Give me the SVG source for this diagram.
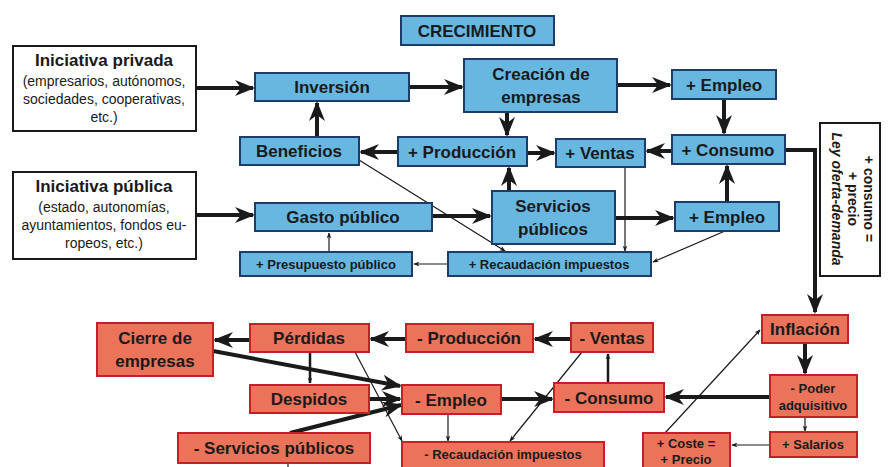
<svg xmlns="http://www.w3.org/2000/svg" width="889" height="467" viewBox="0 0 889 467">
<defs>
<style>
.b rect{fill:#67b7e1;stroke:#1d3c6c;stroke-width:2}
.r rect{fill:#ea735a;stroke:#c4202a;stroke-width:2}
.w rect{fill:#fff;stroke:#1a1a1a;stroke-width:2}
text{font-family:"Liberation Sans",Arial,sans-serif;font-weight:bold;fill:#1a1a1a;text-anchor:middle}
.b text{font-size:17px}
.r text{font-size:17px}
.s{font-size:13px!important}
.n{font-weight:normal;font-size:14px}
#conn line,#conn polyline{stroke:#1a1a1a;fill:none}
.tk{stroke-width:4}
.md{stroke-width:2.5}
.tn{stroke-width:1.2}
</style>
<marker id="a" viewBox="0 0 10 10" refX="9" refY="5" markerWidth="6" markerHeight="6" markerUnits="userSpaceOnUse" orient="auto"><path d="M0,1 L10,5 L0,9 L3,5z" fill="#1a1a1a"/></marker>
<marker id="A" viewBox="0 0 10 10" refX="9" refY="5" markerWidth="5" markerHeight="5" orient="auto"><path d="M0,1 L10,5 L0,9 L3,5z" fill="#1a1a1a"/></marker>
</defs>
<rect width="889" height="467" fill="#fff"/>
<g id="conn">
<line class="tk" x1="196" y1="88" x2="253" y2="88" marker-end="url(#A)"/>
<line class="tk" x1="409" y1="87" x2="462" y2="87" marker-end="url(#A)"/>
<line class="tk" x1="617" y1="85" x2="670" y2="85" marker-end="url(#A)"/>
<line class="tk" x1="724" y1="99" x2="724" y2="133" marker-end="url(#A)"/>
<line class="tk" x1="507" y1="112" x2="507" y2="135" marker-end="url(#A)"/>
<line class="tk" x1="317" y1="137" x2="317" y2="103" marker-end="url(#A)"/>
<line class="tk" x1="398" y1="152" x2="361" y2="152" marker-end="url(#A)"/>
<line class="tk" x1="527" y1="153" x2="554" y2="153" marker-end="url(#A)"/>
<line class="tk" x1="672" y1="151" x2="647" y2="151" marker-end="url(#A)"/>
<line class="tk" x1="509" y1="191" x2="509" y2="168" marker-end="url(#A)"/>
<line class="tk" x1="727" y1="202" x2="727" y2="166" marker-end="url(#A)"/>
<line class="tk" x1="196" y1="215" x2="253" y2="215" marker-end="url(#A)"/>
<line class="tk" x1="432" y1="216" x2="490" y2="216" marker-end="url(#A)"/>
<line class="tk" x1="615" y1="218" x2="673" y2="218" marker-end="url(#A)"/>
<line class="tn" x1="359" y1="160" x2="505" y2="251" marker-end="url(#a)"/>
<line class="tn" x1="625" y1="167" x2="625" y2="251" marker-end="url(#a)"/>
<line class="tn" x1="725" y1="231" x2="653" y2="262" marker-end="url(#a)"/>
<line class="tn" x1="448" y1="264" x2="414" y2="264" marker-end="url(#a)"/>
<line class="tn" x1="329" y1="252" x2="329" y2="233" marker-end="url(#a)"/>
<polyline class="tk" points="785,150 815,150 815,312" marker-end="url(#A)"/>
<line class="tk" x1="571" y1="339" x2="535" y2="339" marker-end="url(#A)"/>
<line class="tk" x1="406" y1="339" x2="371" y2="339" marker-end="url(#A)"/>
<line class="tk" x1="250" y1="340" x2="215" y2="340" marker-end="url(#A)"/>
<line class="tk" x1="213" y1="351" x2="400" y2="386" marker-end="url(#A)"/>
<line class="md" x1="310" y1="352" x2="310" y2="383" marker-end="url(#a)"/>
<line class="tn" x1="355" y1="352" x2="402" y2="441" marker-end="url(#a)"/>
<line class="tk" x1="369" y1="399" x2="400" y2="399" marker-end="url(#A)"/>
<line class="tk" x1="501" y1="399" x2="552" y2="399" marker-end="url(#A)"/>
<line class="md" x1="608" y1="383" x2="608" y2="354" marker-end="url(#a)"/>
<line class="tk" x1="290" y1="433" x2="401" y2="405" marker-end="url(#A)"/>
<line class="tn" x1="288" y1="463" x2="288" y2="467"/>
<line class="tn" x1="448" y1="414" x2="448" y2="441" marker-end="url(#a)"/>
<line class="tn" x1="582" y1="352" x2="510" y2="441" marker-end="url(#a)"/>
<line class="tk" x1="770" y1="397" x2="666" y2="397" marker-end="url(#A)"/>
<line class="tk" x1="805" y1="343" x2="805" y2="373" marker-end="url(#A)"/>
<line class="tn" x1="805" y1="417" x2="805" y2="431" marker-end="url(#a)"/>
<line class="tn" x1="770" y1="445" x2="732" y2="445" marker-end="url(#a)"/>
<line class="tn" x1="665" y1="433" x2="760" y2="330" marker-end="url(#a)"/>
</g>
<g id="crecimiento" class="b"><rect x="401" y="16" width="153" height="29"/><text x="477" y="37">CRECIMIENTO</text></g>
<g id="privada" class="w"><rect x="13" y="46" width="183" height="85"/><text x="104" y="66" style="font-size:17px">Iniciativa privada</text><text class="n" x="104" y="86">(empresarios, autónomos,</text><text class="n" x="104" y="104">sociedades, cooperativas,</text><text class="n" x="104" y="122">etc.)</text></g>
<g id="publica" class="w"><rect x="13" y="172" width="183" height="87"/><text x="104" y="192" style="font-size:17px">Iniciativa pública</text><text class="n" x="104" y="212">(estado, autonomías,</text><text class="n" x="104" y="230">ayuntamientos, fondos eu-</text><text class="n" x="104" y="248">ropeos, etc.)</text></g>
<g id="inversion" class="b"><rect x="255" y="73" width="154" height="28"/><text x="332" y="93">Inversión</text></g>
<g id="creacion" class="b"><rect x="464" y="59" width="153" height="53"/><text x="541" y="80">Creación de</text><text x="541" y="103">empresas</text></g>
<g id="empleo1" class="b"><rect x="672" y="70" width="104" height="29"/><text x="724" y="91">+ Empleo</text></g>
<g id="beneficios" class="b"><rect x="240" y="137" width="119" height="28"/><text x="299" y="157">Beneficios</text></g>
<g id="produccion" class="b"><rect x="398" y="137" width="129" height="29"/><text x="462" y="158">+ Producción</text></g>
<g id="ventas" class="b"><rect x="556" y="139" width="89" height="28"/><text x="600" y="159">+ Ventas</text></g>
<g id="consumo" class="b"><rect x="672" y="135" width="113" height="29"/><text x="728" y="156">+ Consumo</text></g>
<g id="gasto" class="b"><rect x="255" y="203" width="177" height="28"/><text x="343" y="223">Gasto público</text></g>
<g id="servicios" class="b"><rect x="492" y="191" width="123" height="53"/><text x="553" y="212">Servicios</text><text x="553" y="235">públicos</text></g>
<g id="empleo2" class="b"><rect x="675" y="202" width="104" height="29"/><text x="727" y="223">+ Empleo</text></g>
<g id="presupuesto" class="b"><rect x="240" y="252" width="172" height="24"/><text class="s" x="326" y="269">+ Presupuesto público</text></g>
<g id="recaudacion" class="b"><rect x="448" y="252" width="203" height="24"/><text class="s" x="549" y="269">+ Recaudación impuestos</text></g>
<g id="ley" class="w"><rect x="820" y="123" width="60" height="153"/>
<g transform="translate(850,199) rotate(90)"><text y="-14" style="font-size:14px">+ consumo =</text><text y="2" style="font-size:14px">+ precio</text><text y="18" style="font-size:14px;font-style:italic">Ley oferta-demanda</text></g></g>
<g id="cierre" class="r"><rect x="97" y="323" width="116" height="53"/><text x="155" y="344">Cierre de</text><text x="155" y="367">empresas</text></g>
<g id="perdidas" class="r"><rect x="250" y="324" width="119" height="28"/><text x="309" y="344">Pérdidas</text></g>
<g id="mproduccion" class="r"><rect x="406" y="324" width="127" height="28"/><text x="469" y="344">- Producción</text></g>
<g id="mventas" class="r"><rect x="571" y="323" width="82" height="29"/><text x="612" y="344">- Ventas</text></g>
<g id="inflacion" class="r"><rect x="762" y="315" width="86" height="28"/><text x="805" y="335">Inflación</text></g>
<g id="despidos" class="r"><rect x="250" y="385" width="119" height="28"/><text x="309" y="405">Despidos</text></g>
<g id="mempleo" class="r"><rect x="402" y="385" width="99" height="29"/><text x="451" y="406">- Empleo</text></g>
<g id="mconsumo" class="r"><rect x="554" y="383" width="110" height="29"/><text x="609" y="404">- Consumo</text></g>
<g id="poder" class="r"><rect x="770" y="375" width="87" height="42"/><text class="s" x="813" y="393">- Poder</text><text class="s" x="813" y="410">adquisitivo</text></g>
<g id="mservicios" class="r"><rect x="178" y="433" width="192" height="30"/><text x="274" y="454">- Servicios públicos</text></g>
<g id="mrecaudacion" class="r"><rect x="402" y="442" width="202" height="26"/><text class="s" x="503" y="459">- Recaudación impuestos</text></g>
<g id="coste" class="r"><rect x="643" y="433" width="87" height="36"/><text class="s" x="686" y="448">+ Coste =</text><text class="s" x="686" y="464">+ Precio</text></g>
<g id="salarios" class="r"><rect x="770" y="432" width="87" height="25"/><text class="s" x="813" y="449">+ Salarios</text></g>
</svg>
